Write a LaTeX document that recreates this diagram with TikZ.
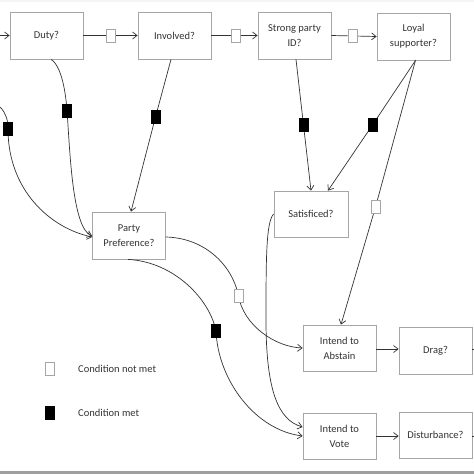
\documentclass[tikz,border=0pt]{standalone}
\usepackage{fontspec}
\setmainfont{Carlito}
\usetikzlibrary{arrows.meta}
\definecolor{boxgray}{HTML}{A6A6A6}
\definecolor{ink}{HTML}{333333}
\tikzset{
 qbox/.style={draw=boxgray, line width=0.8pt, fill=white, minimum width=73pt, minimum height=47pt, inner sep=2pt, align=center, text=ink, font=\fontsize{10.5}{15}\selectfont},
 conn/.style={draw=ink, line width=0.7pt, -{Straight Barb[length=4.5pt,width=7pt]}},
 plainline/.style={draw=ink, line width=0.7pt},
 wmark/.style={draw=boxgray, fill=white, line width=0.7pt, minimum width=9pt, minimum height=13pt, inner sep=0pt},
 bmark/.style={draw=black, fill=black, line width=0.5pt, minimum width=9pt, minimum height=13pt, inner sep=0pt},
 legtext/.style={anchor=west, text=ink, font=\fontsize{10.5}{15}\selectfont, inner sep=0pt},
}
\begin{document}
\begin{tikzpicture}[x=1pt,y=-1pt]
\useasboundingbox (0,0) rectangle (474,474);
\fill[white] (0,0) rectangle (474,474);
\fill[gray!8] (0,0) rectangle (474,1.5);
\fill[gray!75] (0,471) rectangle (474,474);

% boxes
\node[qbox] (duty) at (46.5,35.5) {Duty?};
\node[qbox] (involved) at (174.5,35.5) {Involved?};
\node[qbox] (strong) at (294.5,35.5) {Strong party\\ID?};
\node[qbox] (loyal) at (413.5,36.5) {Loyal\\supporter?};
\node[qbox] (party) at (129,235.5) {Party\\Preference?};
\node[qbox, minimum height=46pt, minimum width=74pt] (satis) at (311,214) {Satisficed?};
\node[qbox, minimum height=46pt] (abstain) at (339.5,348) {Intend to\\Abstain};
\node[qbox] (drag) at (435.5,350.5) {Drag?};
\node[qbox, minimum height=46pt] (vote) at (339.5,436) {Intend to\\Vote};
\node[qbox, minimum height=46pt] (dist) at (435.5,435) {Disturbance?};

% free ends
\coordinate (inL) at (0,35.5);
\coordinate (leftin) at (0,107);
\coordinate (dragout) at (474,349);
\coordinate (distout) at (474,436);

% marker positions
\coordinate (m1) at (8,129);
\coordinate (m2) at (67,111);
\coordinate (m3) at (155.5,117);
\coordinate (m4) at (303.5,125);
\coordinate (m5) at (372.5,125);
\coordinate (m6) at (375.5,207);
\coordinate (m7) at (238.5,295.5);
\coordinate (m8) at (216,331);

% top row
\draw[conn] (inL) -- (duty.west);
\draw[conn] (duty.east) -- node[pos=0.5, wmark] (w1) {} (involved.west);
\draw[conn] (involved.east) -- node[pos=0.52, wmark] (w2) {} (strong.west);
\draw[conn] (strong.east) -- node[pos=0.48, wmark] (w3) {} (loyal.west);

% into party preference
\draw[conn] (leftin) .. controls (6,113) and (8,120) .. (m1) .. controls (8,190) and (50,228) .. ([yshift=-1.5pt]party.west);
\draw[conn] ([xshift=4.5pt]duty.south) .. controls (62,66) and (66,95) .. (m2) .. controls (70,150) and (72,228) .. ([yshift=-0.5pt]party.west);
\draw[conn] ([xshift=-3.5pt]involved.south) -- (m3) -- ([xshift=2pt]party.north);

% into satisficed
\draw[conn] ([xshift=1.5pt]strong.south) -- (m4) -- (satis.north);
\draw[conn] ([xshift=2pt]loyal.south) -- (m5) -- ([xshift=17pt]satis.north);

% into intend to abstain
\draw[conn] ([xshift=2pt]loyal.south) -- (m6) -- ([xshift=1.5pt]abstain.north);
\draw[conn] ([yshift=-1.5pt]party.east) .. controls (205,238) and (232,265) .. (m7) .. controls (243,325) and (275,347) .. (abstain.west);

% into intend to vote
\draw[conn] ([xshift=-1pt]party.south) .. controls (175,262) and (210,300) .. (m8) .. controls (218,380) and (255,430) .. (vote.west);
\draw[conn] (satis.west) .. controls (266,222) and (266,260) .. (266,320) .. controls (266,390) and (278,420) .. ([yshift=9pt]vote.west);

% outcomes
\draw[conn] ([yshift=-1pt]abstain.east) -- ([yshift=-1pt]abstain.east -| drag.west);
\draw[conn] (vote.east) -- (vote.east -| dist.west);
\draw[plainline] (drag.east |- dragout) -- (dragout);
\draw[plainline] (dist.east |- distout) -- (distout);

% markers on curves
\node[bmark] (k1) at (m1) {};
\node[bmark] (k2) at (m2) {};
\node[bmark] (k3) at (m3) {};
\node[bmark] (k4) at (m4) {};
\node[bmark] (k5) at (m5) {};
\node[wmark] (w4) at (m6) {};
\node[wmark] (w5) at (m7) {};
\node[bmark] (k6) at (m8) {};

% legend
\node[wmark] (lw) at (49.5,369) {};
\node[legtext] (lwt) at (78,368.5) {Condition not met};
\node[bmark] (lb) at (49.5,413) {};
\node[legtext] (lbt) at (78,412.5) {Condition met};
\end{tikzpicture}
\end{document}
